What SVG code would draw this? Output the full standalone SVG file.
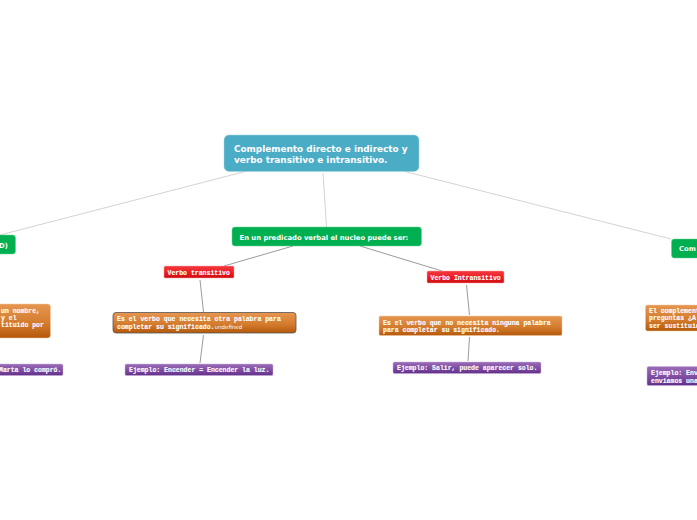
<svg xmlns="http://www.w3.org/2000/svg" width="697" height="520" viewBox="0 0 697 520">
<defs>
<linearGradient id="gr" x1="0" y1="0" x2="0" y2="1"><stop offset="0" stop-color="#f03a40"/><stop offset=".55" stop-color="#ee1c22"/><stop offset="1" stop-color="#cc0c10"/></linearGradient>
<linearGradient id="go" x1="0" y1="0" x2="0" y2="1"><stop offset="0" stop-color="#e69650"/><stop offset=".6" stop-color="#d27a2c"/><stop offset="1" stop-color="#b4580a"/></linearGradient>
<linearGradient id="gp" x1="0" y1="0" x2="0" y2="1"><stop offset="0" stop-color="#9a6cb8"/><stop offset=".6" stop-color="#7c4a9e"/><stop offset="1" stop-color="#62308a"/></linearGradient>
</defs>
<style>
.root{fill:#4bacc6;stroke:#a5d5e2;stroke-width:.5}
.g{fill:#00b050;stroke:#66d096;stroke-width:.5}
.r{fill:url(#gr);stroke:#f8a0a0;stroke-width:.5}
.o{fill:url(#go);stroke:#f0c8a0;stroke-width:.5}
.p{fill:url(#gp);stroke:#c8b0d8;stroke-width:.5}
.ts{font-family:"DejaVu Sans",sans-serif;font-weight:bold;fill:#fff}
.tm{font-family:"Liberation Mono",monospace;font-weight:bold;font-size:6.5px;fill:#fff;stroke:#fff;stroke-width:.12}
.c1{stroke:#c8c8c8;stroke-width:.8;fill:none}
.c2{stroke:#808080;stroke-width:.8;fill:none}
</style>
<g id="connectors">
<path class="c1" d="M247 171L0 235"/>
<path class="c1" d="M323 173L326.500 227"/>
<path class="c1" d="M403 171L671 239"/>
<path class="c2" d="M293 246L224 266"/>
<path class="c2" d="M360 246L442 271"/>
<path class="c2" d="M200 280L203.500 312"/>
<path class="c2" d="M203.500 335L200 363"/>
<path class="c2" d="M466.500 285L469.500 315"/>
<path class="c2" d="M469.500 337L468 361"/>
</g>
<g id="n-root"><rect class="root" x="224" y="135" width="195" height="36.500" rx="5"/>
<text class="ts" font-size="8.900" x="234" y="151.500">Complemento directo e indirecto y</text>
<text class="ts" font-size="8.900" x="234" y="162.500">verbo transitivo e intransitivo.</text></g>
<g id="n-left"><rect class="g" x="-60" y="235" width="75.500" height="19" rx="3"/>
<text class="ts" font-size="6.800" x="-1" y="248">D)</text></g>
<g id="n-center"><rect class="g" x="232" y="227" width="189.500" height="19" rx="3"/>
<text class="ts" font-size="6.800" x="239.500" y="240">En un predicado verbal el nucleo puede ser:</text></g>
<g id="n-right"><rect class="g" x="671.500" y="239" width="80" height="19" rx="3"/>
<text class="ts" font-size="6.800" x="679" y="251">Com</text></g>
<g id="n-vt"><rect class="r" x="164" y="266" width="70" height="12" rx="1.500"/>
<text class="tm" x="167.500" y="274.500">Verbo transitivo</text></g>
<g id="n-vi"><rect class="r" x="427" y="271" width="77" height="12" rx="1.500"/>
<text class="tm" x="430.500" y="279.500">Verbo Intransitivo</text></g>
<g id="n-vtd"><rect class="o" x="113" y="312.500" width="183" height="20.500" rx="3" style="stroke:#555;stroke-width:.8"/>
<text class="tm" x="117" y="321">Es el verbo que necesita otra palabra para</text>
<text class="tm" x="117" y="329">completar su significado.<tspan font-family="DejaVu Sans" font-weight="normal" font-size="5.500" stroke="none">undefined</tspan></text></g>
<g id="n-vid"><rect class="o" x="379" y="316" width="183" height="19.500" rx="1.500"/>
<text class="tm" x="383" y="324.500">Es el verbo que no necesita ninguna palabra</text>
<text class="tm" x="383" y="331.500">para completar su significado.</text></g>
<g id="n-ld"><rect class="o" x="-70" y="304" width="120.500" height="34" rx="3"/>
<text class="tm" x="1" y="312.500">un nombre,</text>
<text class="tm" x="1" y="319.500">y el</text>
<text class="tm" x="1" y="327">tituido por</text></g>
<g id="n-rd"><rect class="o" x="645.500" y="305" width="120" height="26" rx="2"/>
<text class="tm" x="649" y="313">El complemento</text>
<text class="tm" x="649" y="320">preguntas ¿A</text>
<text class="tm" x="649" y="328">ser sustituido</text></g>
<g id="n-le"><rect class="p" x="-60" y="364" width="123" height="11.500" rx="1.500"/>
<text class="tm" x="-1" y="372">Marta lo compró.</text></g>
<g id="n-vte"><rect class="p" x="125" y="364" width="148" height="11.500" rx="1.500"/>
<text class="tm" x="129" y="372">Ejemplo: Encender = Encender la luz.</text></g>
<g id="n-vie"><rect class="p" x="393" y="362" width="148" height="11.500" rx="1.500"/>
<text class="tm" x="397" y="370">Ejemplo: Salir, puede aparecer solo.</text></g>
<g id="n-re"><rect class="p" x="647" y="366.500" width="120" height="19" rx="1.500"/>
<text class="tm" x="651" y="374.500">Ejemplo: Env</text>
<text class="tm" x="651" y="382.500">enviamos una</text></g>
</svg>
